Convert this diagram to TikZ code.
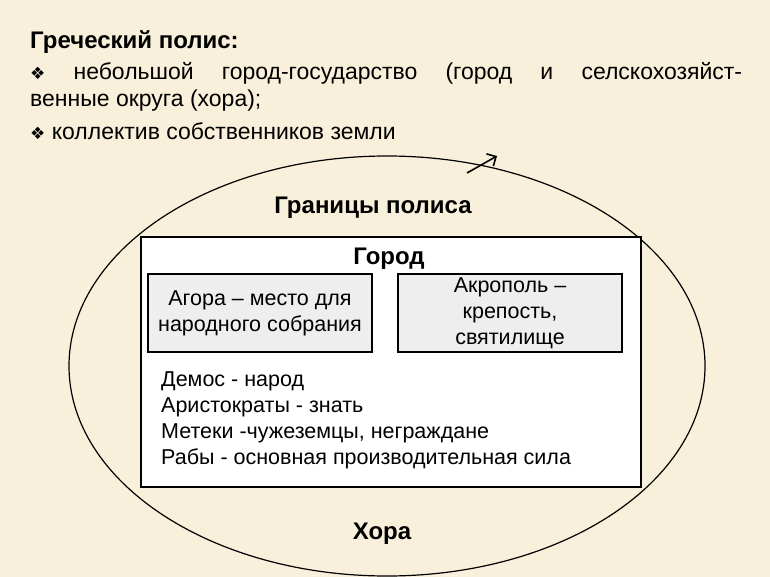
\documentclass[tikz,border=0pt]{standalone}
\usepackage{fontspec}
\usetikzlibrary{arrows.meta}
\setmainfont{Liberation Sans}
\newfontfamily\symf{DejaVu Sans}
\definecolor{bg}{HTML}{F8F0DA}
\definecolor{boxg}{HTML}{EEEEEE}
\begin{document}
\begin{tikzpicture}[x=1pt,y=-1pt,
  txt/.style={font=\fontsize{23}{27}\selectfont, inner sep=0pt},
  hd/.style={font=\fontsize{24}{28}\selectfont\bfseries, inner sep=0pt},
  gbox/.style={draw, line width=1.2pt, fill=boxg, align=center, font=\fontsize{21.5}{26}\selectfont}]
\fill[bg] (0,0) rectangle (770,577);
\useasboundingbox (0,0) rectangle (770,577);
\node[hd, anchor=west] (t) at (30,42) {Греческий полис:};
\node[txt, anchor=west] (l1) at (30,73) {\makebox[712pt][s]{{\symf\fontsize{17}{20}\selectfont ❖} небольшой город-государство (город и селскохозяйст-}};
\node[txt, anchor=west] (l2) at (30,101) {венные округа (хора);};
\node[txt, anchor=west] (l3) at (30,131) {{\symf\fontsize{17}{20}\selectfont ❖} коллектив собственников земли};
\draw[line width=1.2pt] (387,366) ellipse [x radius=318, y radius=210];
\coordinate (a1) at (467,173);
\coordinate (a2) at (497,156);
\draw[line width=1.6pt, -{Straight Barb[length=7pt]}] (a1) -- (a2);
\node[hd] (gr) at (373,208) {Границы полиса};
\draw[line width=1.2pt, fill=white] (141,237) rectangle (641,487);
\node[hd] (city) at (389,259) {Город};
\node[gbox, minimum width=224pt, minimum height=78pt] (ag) at (260,313) {Агора – место для\\народного собрания};
\node[gbox, minimum width=224pt, minimum height=78pt] (ak) at (510,313) {Акрополь –\\крепость,\\святилище};
\node[txt, anchor=north west, align=left, font=\fontsize{21.5}{26}\selectfont] (list) at (161,372) {Демос - народ\\Аристократы - знать\\Метеки -чужеземцы, неграждане\\Рабы - основная производительная сила};
\node[hd] (hora) at (382,534) {Хора};
\end{tikzpicture}
\end{document}
